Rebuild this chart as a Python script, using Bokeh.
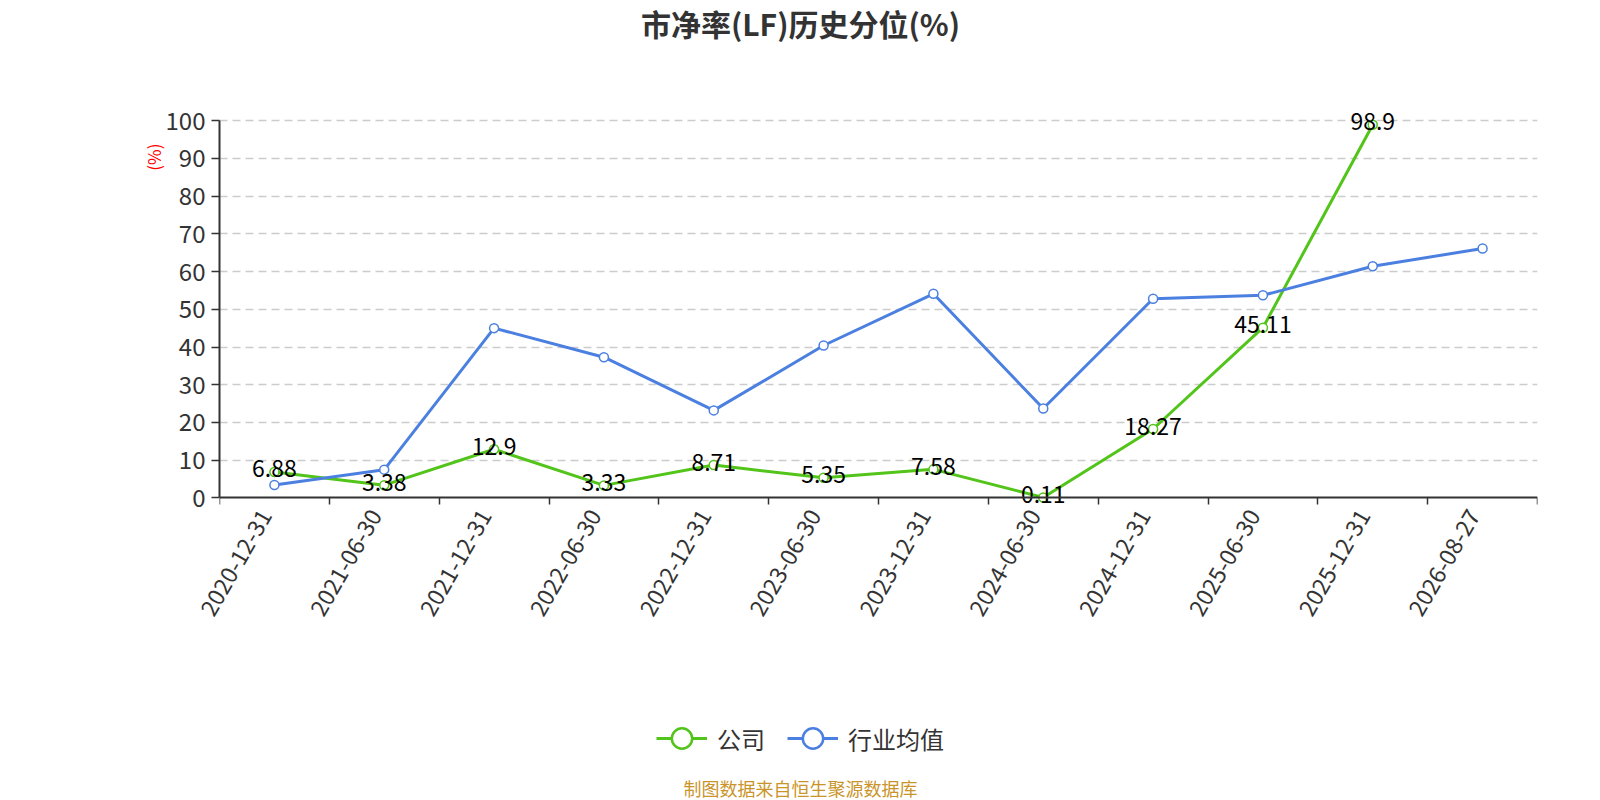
import math
from bokeh.plotting import figure
from bokeh.layouts import column
from bokeh.models import (Range1d, FixedTicker, Title, Legend, LegendItem, ColumnDataSource, Label,
                          LinearAxis)
from bokeh.core.properties import value
from bokeh.embed import file_html
from bokeh.resources import INLINE

categories = ["2020-12-31", "2021-06-30", "2021-12-31", "2022-06-30", "2022-12-31",
              "2023-06-30", "2023-12-31", "2024-06-30", "2024-12-31", "2025-06-30",
              "2025-12-31", "2026-08-27"]
company = [6.88, 3.38, 12.9, 3.33, 8.71, 5.35, 7.58, 0.11, 18.27, 45.11, 98.9, float("nan")]
industry = [3.45, 7.5, 45.0, 37.3, 23.2, 40.4, 54.1, 23.7, 52.8, 53.7, 61.4, 66.1]
y_ticks = list(range(0, 101, 10))
series_names = ["公司", "行业均值"]

TITLE = "市净率(LF)历史分位(%)"
FOOTER = "制图数据来自恒生聚源数据库"
FONT = "Noto Sans CJK SC"
GREEN = "#52c41a"
BLUE = "#4b80e0"
W = 1600
BL, BR = 219, 63
LABEL_SHIFT = 0.08   # small leftward nudge of rotated category labels (style only)

n = len(categories)
xs = [i + 0.5 for i in range(n)]

# ---------- header (title) ----------
head = figure(width=W, height=88, output_backend="svg", toolbar_location=None,
              x_range=Range1d(BL, W - BR), y_range=Range1d(0, 88), x_axis_type=None, y_axis_type=None,
              min_border=0, min_border_left=BL, min_border_right=BR, title=None)
head.outline_line_color = None
head.grid.visible = False
head.add_layout(Label(x=800, y=65.5, text=TITLE, text_align="center", text_baseline="middle",
                      text_font=FONT, text_font_size="30px", text_font_style="bold",
                      text_color="#333333"))

# ---------- main chart ----------
p = figure(width=W, height=560, output_backend="svg", toolbar_location=None,
           x_range=Range1d(0, n), y_range=Range1d(-2, 104), title=None,
           min_border_left=BL, min_border_right=BR, min_border_top=17, min_border_bottom=143)
p.outline_line_color = None

# category labels (at frame bottom, labels only)
label_pos = [x - LABEL_SHIFT for x in xs]
p.xaxis.ticker = FixedTicker(ticks=label_pos)
p.xaxis.major_label_overrides = {x: c for x, c in zip(label_pos, categories)}
p.xaxis.major_label_orientation = math.pi / 3
p.xaxis.major_tick_line_color = None
p.xaxis.minor_tick_line_color = None
p.xaxis.axis_line_color = None
p.xaxis.major_label_text_font = FONT
p.xaxis.major_label_text_font_size = "23px"
p.xaxis.major_label_text_color = "#333333"
p.xaxis.major_label_standoff = 0

# axis line with boundary ticks at y = 0
zero_axis = LinearAxis(fixed_location=0, ticker=FixedTicker(ticks=[], minor_ticks=list(range(n + 1))),
                       major_label_text_alpha=0, major_tick_line_color=None,
                       minor_tick_line_color="#333333", minor_tick_line_width=1.5,
                       minor_tick_out=7, minor_tick_in=0,
                       axis_line_color="#333333", axis_line_width=2)
p.add_layout(zero_axis, "below")

p.yaxis.bounds = (0, 100)
p.yaxis.ticker = FixedTicker(ticks=y_ticks)
p.yaxis.minor_tick_line_color = None
p.yaxis.major_tick_line_color = "#333333"
p.yaxis.major_tick_line_width = 1.5
p.yaxis.major_tick_out = 8
p.yaxis.major_tick_in = 0
p.yaxis.axis_line_color = "#333333"
p.yaxis.axis_line_width = 2
p.yaxis.major_label_text_font = FONT
p.yaxis.major_label_text_font_size = "24px"
p.yaxis.major_label_text_color = "#333333"
p.yaxis.major_label_standoff = 6

p.xgrid.grid_line_color = None
p.ygrid.ticker = FixedTicker(ticks=y_ticks[1:])
p.ygrid.grid_line_color = "#cccccc"
p.ygrid.grid_line_width = 1.3
p.ygrid.grid_line_dash = "8 5"

unit = Title(text="(%)", align="right", text_font=FONT, text_font_size="17px",
             text_color="#ff0000", text_font_style="normal", offset=38, standoff=-6)
p.add_layout(unit, "left")

src_c = ColumnDataSource(dict(x=xs, y=company))
src_i = ColumnDataSource(dict(x=xs, y=industry))
p.line("x", "y", source=src_c, line_color=GREEN, line_width=3)
p.scatter("x", "y", source=src_c, size=9, fill_color="white", line_color=GREEN, line_width=1.5)
p.line("x", "y", source=src_i, line_color=BLUE, line_width=3)
p.scatter("x", "y", source=src_i, size=9, fill_color="white", line_color=BLUE, line_width=1.5)

lab_x = [x for x, v in zip(xs, company) if v == v]
lab_y = [v for v in company if v == v]
lab_t = [("%g" % v) for v in lab_y]
p.text(lab_x, lab_y, text=lab_t, text_align="center", text_baseline="middle", y_offset=-3,
       text_font=value(FONT), text_font_size="23px", text_color="#000000")

# ---------- footer (legend + source note) ----------
foot = figure(width=W, height=152, output_backend="svg", toolbar_location=None,
              x_range=Range1d(BL, W - BR), y_range=Range1d(0, 152), x_axis_type=None, y_axis_type=None,
              min_border=0, min_border_left=BL, min_border_right=BR, title=None)
foot.outline_line_color = None
foot.grid.visible = False
nan = float("nan")
dl_c = foot.line([nan], [nan], line_color=GREEN, line_width=3)
ds_c = foot.scatter([nan], [nan], size=20, fill_color="white", line_color=GREEN, line_width=2.5)
dl_i = foot.line([nan], [nan], line_color=BLUE, line_width=3)
ds_i = foot.scatter([nan], [nan], size=20, fill_color="white", line_color=BLUE, line_width=2.5)
legend = Legend(items=[LegendItem(label=series_names[0], renderers=[dl_c, ds_c]),
                       LegendItem(label=series_names[1], renderers=[dl_i, ds_i])],
                orientation="horizontal", location=(656 - BL, 34),
                label_text_font=FONT, label_text_font_size="24px", label_text_color="#333333",
                glyph_width=51, glyph_height=56, label_standoff=10, spacing=22,
                padding=0, margin=0, border_line_color=None, background_fill_alpha=0)
foot.add_layout(legend, "center")
foot.add_layout(Label(x=800, y=13, text=FOOTER, text_align="center", text_baseline="middle",
                      text_font=FONT, text_font_size="18px", text_color="#c9952b"))

layout = column(head, p, foot, spacing=0)
open("out.html", "w").write(file_html(layout, INLINE))
